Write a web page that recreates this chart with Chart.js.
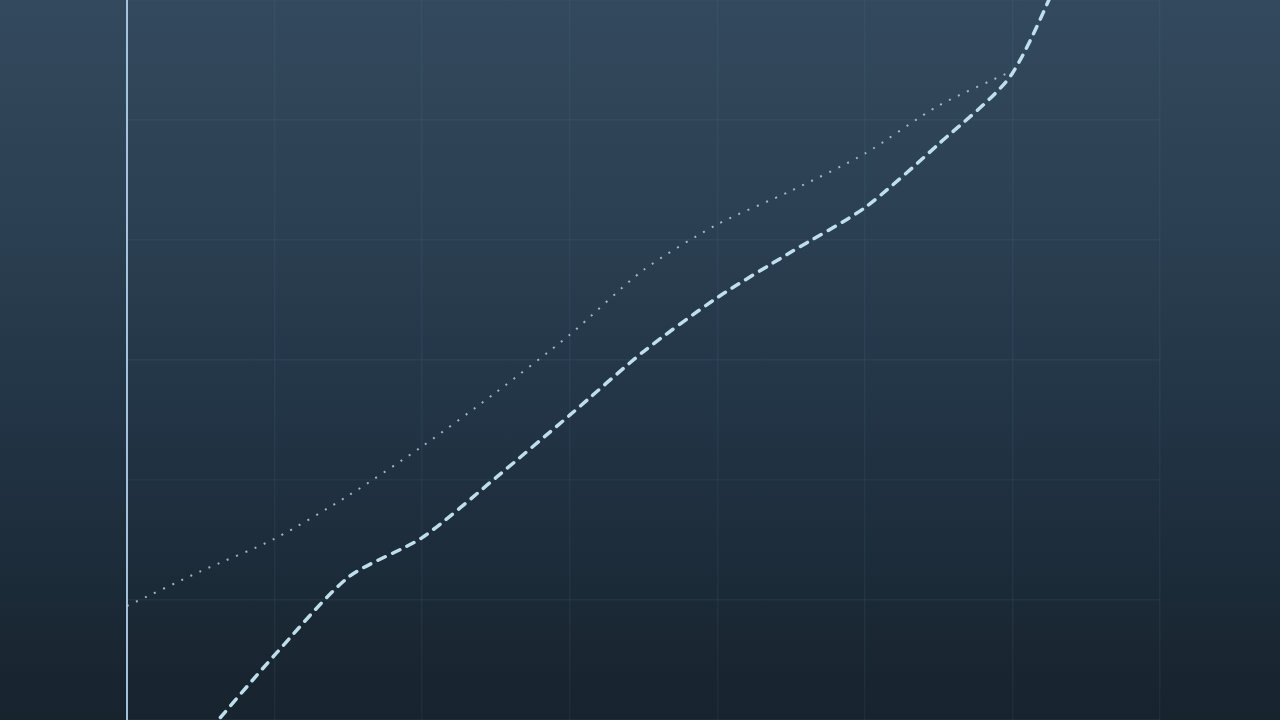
<!DOCTYPE html>
<html>
<head>
<meta charset="utf-8">
<title>Line chart</title>
<script src="https://cdn.jsdelivr.net/npm/chart.js"></script>
<style>
	html, body {
		margin: 0;
		padding: 0;
		width: 1280px;
		height: 720px;
		overflow: hidden;
		background: linear-gradient(180deg, #33495d 0%, #2b4052 30%, #213344 60%, #17232d 100%);
	}
	#chart {
		display: block;
	}
</style>
</head>
<body>
<canvas id="chart" width="1280" height="720"></canvas>
<script>
// x positions along the axis (grid step = 1)
var xPositions = [0, 0.5, 1, 1.5, 2, 2.5, 3, 3.5, 4, 4.5, 5, 5.5, 6, 6.5];
// dashed (thicker) series
var dashedValues = [-0.89, -0.17, 0.54, 1.19, 1.52, 2.02, 2.54, 3.07, 3.52, 3.9, 4.27, 4.8, 5.39, 6.72];
// dotted (thin) series, ends where it meets the dashed one
var dottedValues = [0.95, 1.24, 1.51, 1.87, 2.28, 2.73, 3.21, 3.75, 4.13, 4.41, 4.72, 5.12, 5.41, null];
var xMin = 0, xMax = 7;
var yMin = 0, yMax = 6;

function toPoints(values) {
	return xPositions.map(function (x, i) {
		return { x: x, y: values[i] };
	});
}

var gridColor = "rgba(130, 170, 200, 0.07)";

new Chart(document.getElementById("chart").getContext("2d"), {
	type: "line",
	data: {
		datasets: [
			{
				label: "dashed",
				data: toPoints(dashedValues),
				borderColor: "rgba(200, 232, 246, 0.95)",
				borderWidth: 3.5,
				borderDash: [8, 8],
				borderCapStyle: "round",
				pointRadius: 0,
				tension: 0.25,
			},
			{
				label: "dotted",
				data: toPoints(dottedValues),
				borderColor: "rgba(190, 215, 228, 0.8)",
				borderWidth: 2,
				borderDash: [2, 8],
				pointRadius: 0,
				tension: 0.25,
				spanGaps: false,
			},
		],
	},
	options: {
		responsive: false,
		animation: false,
		layout: { padding: { left: 127, right: 120, top: 0, bottom: 0 } },
		plugins: {
			legend: { display: false },
			tooltip: { enabled: false },
		},
		scales: {
			x: {
				type: "linear",
				min: xMin,
				max: xMax,
				ticks: { display: false, stepSize: 1 },
				grid: { color: gridColor, lineWidth: 1.5, drawTicks: false },
				border: { display: false },
				afterFit: function (s) { s.height = 0; },
			},
			y: {
				type: "linear",
				min: yMin,
				max: yMax,
				ticks: { display: false, stepSize: 1 },
				grid: { color: gridColor, lineWidth: 1.5, drawTicks: false },
				border: { display: true, color: "rgba(180, 208, 235, 0.9)", width: 2 },
				afterFit: function (s) { s.width = 0; },
			},
		},
	},
});
</script>
</body>
</html>
